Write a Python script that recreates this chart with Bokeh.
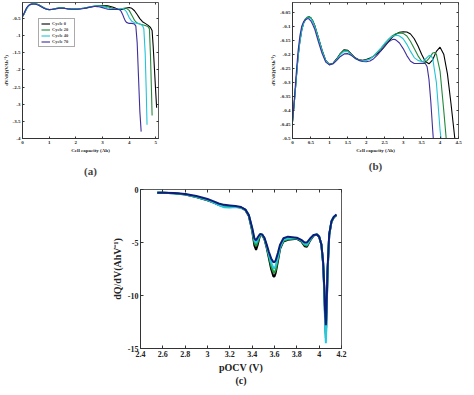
from bokeh.plotting import figure
from bokeh.layouts import column, row, Spacer
from bokeh.models import (Range1d, FixedTicker, CustomJSTickFormatter, LinearAxis, Title)
from bokeh.embed import file_html
from bokeh.resources import INLINE

# ---------------- data: panels (a) and (b)  (dV/dQ vs capacity) ----------------
cycles = ["Cycle 0", "Cycle 20", "Cycle 40", "Cycle 70"]

cap_c0 = [0, 0.05, 0.1, 0.15, 0.2, 0.25, 0.3, 0.35, 0.4, 0.45, 0.5, 0.55, 0.6, 0.7, 0.8, 0.9, 1.0,
          1.1, 1.2, 1.3, 1.4, 1.5, 1.6, 1.7, 1.8, 1.9, 2.0, 2.1, 2.2, 2.3, 2.4, 2.5, 2.6, 2.7, 2.8,
          2.9, 3.0, 3.1, 3.2, 3.3, 3.4, 3.5, 3.6, 3.7, 3.8, 3.9, 4.0, 4.1, 4.2, 4.3, 4.4, 4.5, 4.6,
          4.7, 4.8, 4.86, 4.9, 4.95, 5.0, 5.03]
dvdq_c0 = [-0.44, -0.37, -0.29, -0.21, -0.155, -0.115, -0.09, -0.077, -0.07, -0.068, -0.071, -0.082,
           -0.097, -0.14, -0.185, -0.222, -0.236, -0.232, -0.216, -0.197, -0.184, -0.186, -0.2, -0.213,
           -0.22, -0.222, -0.219, -0.214, -0.207, -0.198, -0.187, -0.172, -0.155, -0.14, -0.129, -0.122,
           -0.12, -0.121, -0.128, -0.145, -0.17, -0.2, -0.226, -0.234, -0.22, -0.19, -0.175, -0.2, -0.27,
           -0.38, -0.5, -0.59, -0.64, -0.69, -0.76, -0.85, -1.3, -2.0, -2.7, -3.1]

cap_c20 = [0, 0.05, 0.1, 0.15, 0.2, 0.25, 0.3, 0.35, 0.4, 0.45, 0.5, 0.55, 0.6, 0.7, 0.8, 0.9, 1.0,
           1.1, 1.2, 1.3, 1.4, 1.5, 1.6, 1.7, 1.8, 1.9, 2.0, 2.1, 2.2, 2.3, 2.4, 2.5, 2.6, 2.7, 2.8,
           2.9, 3.0, 3.1, 3.2, 3.3, 3.4, 3.5, 3.6, 3.7, 3.8, 3.85, 3.9, 4.0, 4.1, 4.2, 4.3, 4.4, 4.5,
           4.6, 4.7, 4.76, 4.8, 4.84, 4.86]
dvdq_c20 = [-0.44, -0.37, -0.29, -0.21, -0.152, -0.112, -0.088, -0.074, -0.068, -0.066, -0.07, -0.081,
            -0.097, -0.14, -0.186, -0.223, -0.237, -0.233, -0.217, -0.198, -0.186, -0.188, -0.202, -0.214,
            -0.221, -0.223, -0.221, -0.216, -0.206, -0.193, -0.18, -0.164, -0.148, -0.135, -0.127, -0.124,
            -0.126, -0.135, -0.155, -0.18, -0.205, -0.225, -0.23, -0.215, -0.196, -0.194, -0.2, -0.26,
            -0.4, -0.55, -0.63, -0.66, -0.68, -0.7, -0.73, -0.8, -1.6, -2.7, -3.33]

cap_c40 = [0, 0.05, 0.1, 0.15, 0.2, 0.25, 0.3, 0.35, 0.4, 0.45, 0.5, 0.55, 0.6, 0.7, 0.8, 0.9, 1.0,
           1.1, 1.2, 1.3, 1.4, 1.5, 1.6, 1.7, 1.8, 1.9, 2.0, 2.1, 2.2, 2.3, 2.4, 2.5, 2.6, 2.7, 2.8,
           2.85, 2.9, 3.0, 3.1, 3.2, 3.3, 3.4, 3.5, 3.55, 3.6, 3.7, 3.75, 3.8, 3.9, 4.0, 4.1, 4.2, 4.3,
           4.4, 4.5, 4.55, 4.6, 4.64, 4.67]
dvdq_c40 = [-0.44, -0.37, -0.29, -0.21, -0.155, -0.115, -0.09, -0.077, -0.071, -0.07, -0.074, -0.085,
            -0.1, -0.143, -0.188, -0.224, -0.237, -0.234, -0.219, -0.201, -0.19, -0.191, -0.203, -0.215,
            -0.222, -0.224, -0.222, -0.217, -0.206, -0.192, -0.177, -0.161, -0.147, -0.137, -0.133,
            -0.133, -0.135, -0.145, -0.165, -0.19, -0.212, -0.222, -0.226, -0.225, -0.218, -0.205,
            -0.205, -0.215, -0.3, -0.47, -0.58, -0.62, -0.64, -0.66, -0.7, -0.8, -1.5, -2.6, -3.6]

cap_c70 = [0, 0.05, 0.1, 0.15, 0.2, 0.25, 0.3, 0.35, 0.4, 0.43, 0.45, 0.5, 0.55, 0.6, 0.7, 0.8, 0.9,
           1.0, 1.1, 1.2, 1.3, 1.4, 1.5, 1.6, 1.7, 1.8, 1.9, 2.0, 2.1, 2.2, 2.3, 2.4, 2.5, 2.6, 2.7,
           2.75, 2.8, 2.9, 3.0, 3.1, 3.2, 3.3, 3.4, 3.5, 3.6, 3.65, 3.7, 3.75, 3.8, 3.85, 3.9, 4.0,
           4.1, 4.2, 4.25, 4.3, 4.35, 4.4, 4.45]
dvdq_c70 = [-0.44, -0.36, -0.27, -0.19, -0.135, -0.1, -0.084, -0.077, -0.074, -0.074, -0.075, -0.082,
            -0.095, -0.11, -0.155, -0.197, -0.228, -0.238, -0.234, -0.222, -0.208, -0.199, -0.198,
            -0.205, -0.215, -0.222, -0.226, -0.227, -0.224, -0.216, -0.203, -0.187, -0.17, -0.157,
            -0.148, -0.147, -0.149, -0.16, -0.18, -0.205, -0.225, -0.233, -0.233, -0.232, -0.233,
            -0.245, -0.29, -0.37, -0.47, -0.56, -0.61, -0.64, -0.64, -0.66, -0.72, -1.2, -2.2, -3.2, -3.8]

a_xticks = [0, 1, 2, 3, 4, 5]
a_yticks = [-4, -3.5, -3, -2.5, -2, -1.5, -1, -0.5]
b_xticks = [0, 0.5, 1, 1.5, 2, 2.5, 3, 3.5, 4, 4.5]
b_yticks = [-0.5, -0.45, -0.4, -0.35, -0.3, -0.25, -0.2, -0.15, -0.1, -0.05]

# ---------------- data: panel (c)  (dQ/dV vs pOCV) ----------------
pocv = [2.55, 2.6, 2.7, 2.8, 2.9, 3.0, 3.05, 3.1, 3.15, 3.2, 3.25, 3.3, 3.34, 3.37, 3.40, 3.42,
        3.435, 3.45, 3.47, 3.49, 3.51, 3.53, 3.55, 3.57, 3.59, 3.6, 3.61, 3.63, 3.65, 3.68, 3.72,
        3.76, 3.8, 3.84, 3.87, 3.89, 3.92, 3.95, 3.98, 4.0, 4.02, 4.035, 4.045, 4.055, 4.06, 4.065,
        4.075, 4.09, 4.11, 4.13, 4.155]
dqdv_c0 = [-0.30, -0.31, -0.36, -0.47, -0.72, -1.02, -1.22, -1.45, -1.6, -1.62, -1.62, -1.7, -1.95,
           -2.5, -3.9, -5.3, -5.7, -5.2, -4.35, -4.3, -4.7, -5.5, -6.5, -7.5, -8.2, -8.2, -7.9, -6.8,
           -5.6, -4.9, -4.75, -4.7, -4.65, -4.9, -5.35, -5.4, -4.8, -4.35, -4.25, -4.45, -5.2, -6.9,
           -9.2, -12.5, -13.6, -12.0, -7.8, -4.3, -3.05, -2.65, -2.4]
dqdv_c20 = [-0.30, -0.31, -0.35, -0.46, -0.7, -1.0, -1.2, -1.45, -1.62, -1.65, -1.63, -1.7, -1.93,
            -2.45, -3.8, -5.0, -5.35, -4.95, -4.3, -4.28, -4.65, -5.4, -6.3, -7.2, -7.8, -7.85, -7.6,
            -6.6, -5.5, -4.85, -4.7, -4.65, -4.6, -4.85, -5.25, -5.3, -4.75, -4.33, -4.25, -4.45, -5.2,
            -6.9, -9.3, -12.8, -14.0, -12.3, -7.8, -4.3, -3.05, -2.65, -2.4]
dqdv_c40 = [-0.30, -0.31, -0.35, -0.45, -0.68, -0.98, -1.2, -1.48, -1.68, -1.7, -1.66, -1.7, -1.92,
            -2.4, -3.7, -4.8, -5.05, -4.7, -4.25, -4.26, -4.6, -5.3, -6.1, -6.9, -7.4, -7.45, -7.2,
            -6.4, -5.4, -4.75, -4.6, -4.6, -4.6, -4.8, -5.15, -5.2, -4.7, -4.3, -4.25, -4.45, -5.2,
            -7.0, -9.5, -13.3, -14.5, -12.6, -7.8, -4.25, -3.0, -2.6, -2.38]
dqdv_c70 = [-0.30, -0.30, -0.33, -0.42, -0.62, -0.9, -1.1, -1.32, -1.45, -1.5, -1.55, -1.65, -1.9,
            -2.4, -3.6, -4.6, -4.8, -4.5, -4.2, -4.25, -4.55, -5.2, -5.9, -6.5, -6.85, -6.85, -6.7,
            -6.0, -5.2, -4.6, -4.45, -4.5, -4.55, -4.75, -5.0, -5.0, -4.6, -4.3, -4.25, -4.45, -5.2,
            -6.8, -9.0, -12.0, -12.8, -11.5, -7.5, -4.2, -3.0, -2.6, -2.35]
c_xticks = [2.4, 2.6, 2.8, 3.0, 3.2, 3.4, 3.6, 3.8, 4.0, 4.2]
c_yticks = [-15, -10, -5, 0]

SERIF = "Liberation Serif"
COL_AB = ["#000000", "#22883a", "#22c4d8", "#3d2f9c"]
COL_C = ["#000000", "#1f9a3c", "#25c8e0", "#0d1d78"]


def fmt():
    return CustomJSTickFormatter(code="return String(Math.round(tick*100)/100);")


def style(p, xt, yt, fs, lab_fs, tick_len, xlabel, ylabel, lab_standoff):
    p.xgrid.visible = False
    p.ygrid.visible = False
    p.outline_line_color = "#333333"
    p.outline_line_width = 0.8
    xa = p.below[0]
    ya = p.left[0]
    xa.axis_label = xlabel
    ya.axis_label = ylabel
    for ax, t in ((xa, xt), (ya, yt)):
        ax.ticker = FixedTicker(ticks=t)
        ax.formatter = fmt()
        ax.major_tick_in = tick_len
        ax.major_tick_out = 0
        ax.minor_tick_line_color = None
        ax.axis_line_color = "#333333"
        ax.major_tick_line_color = "#333333"
        ax.major_label_text_font = SERIF
        ax.major_label_text_font_style = "bold"
        ax.major_label_text_font_size = fs
        ax.major_label_text_color = "#222222"
        ax.major_label_standoff = 2
        ax.axis_label_standoff = lab_standoff
        ax.axis_label_text_font = SERIF
        ax.axis_label_text_font_style = "bold"
        ax.axis_label_text_font_size = lab_fs
        ax.axis_label_text_color = "#222222"
    # mirrored ticks on top / right (MATLAB box style), no labels
    for loc, t in (("above", xt), ("right", yt)):
        ax = LinearAxis(ticker=FixedTicker(ticks=t), major_tick_in=tick_len, major_tick_out=0,
                        minor_tick_line_color=None, major_label_text_color=None,
                        major_label_standoff=0, axis_line_color=None,
                        major_tick_line_color="#333333")
        p.add_layout(ax, loc)


# ---------------- panel (a) ----------------
pa = figure(width=246, height=183, output_backend="svg", toolbar_location=None,
            x_range=Range1d(0, 5.1), y_range=Range1d(-4, -0.03),
            min_border_left=20, min_border_right=88, min_border_top=2, min_border_bottom=44)
style(pa, a_xticks, a_yticks, "5px", "5px", 2, "Cell capacity (Ah)", "dV/dQ(VAh\u207b\u00b9)", 1)
for xs, ys, c, lab in zip([cap_c0, cap_c20, cap_c40, cap_c70],
                          [dvdq_c0, dvdq_c20, dvdq_c40, dvdq_c70], COL_AB, cycles):
    pa.line(xs, ys, line_color=c, line_width=1.1, legend_label=lab)
lg = pa.legend[0]
lg.location = "top_left"
lg.margin = 16
lg.label_text_font = SERIF
lg.label_text_font_style = "bold"
lg.label_text_font_size = "4.5px"
lg.label_height = 5
lg.glyph_height = 5
lg.glyph_width = 9
lg.spacing = 1
lg.padding = 2
lg.label_standoff = 2
lg.border_line_color = "#555555"
lg.border_line_width = 0.6
pa.add_layout(Title(text="(a)", align="center", text_font=SERIF, text_font_size="11px",
                    text_font_style="bold", standoff=14), "below")

# ---------------- panel (b) ----------------
pb = figure(width=228, height=183, output_backend="svg", toolbar_location=None,
            x_range=Range1d(0, 4.5), y_range=Range1d(-0.5, -0.016),
            min_border_left=46, min_border_right=16, min_border_top=0, min_border_bottom=41)
style(pb, b_xticks, b_yticks, "5px", "5px", 2, "Cell capacity (Ah)", "dV/dQ(VAh\u207b\u00b9)", 1)
for xs, ys, c in zip([cap_c0, cap_c20, cap_c40, cap_c70],
                     [dvdq_c0, dvdq_c20, dvdq_c40, dvdq_c70], COL_AB):
    pb.line(xs, ys, line_color=c, line_width=1.1)
pb.add_layout(Title(text="(b)", align="center", text_font=SERIF, text_font_size="11px",
                    text_font_style="bold", standoff=5), "below")

# ---------------- panel (c) ----------------
pc = figure(width=260, height=212, output_backend="svg", toolbar_location=None,
            x_range=Range1d(2.4, 4.2), y_range=Range1d(-15, 0),
            min_border_left=40, min_border_right=19, min_border_top=6, min_border_bottom=47)
style(pc, c_xticks, c_yticks, "8px", "10px", 3, "pOCV (V)\n(c)", "dQ/dV(AhV\u207b\u00b9)", 2)
for ys, c in zip([dqdv_c0, dqdv_c20, dqdv_c40, dqdv_c70], COL_C):
    pc.line(pocv, ys, line_color=c, line_width=2)

layout = column(row(pa, pb, spacing=0),
                row(Spacer(width=100, height=212), pc, Spacer(width=114, height=212), spacing=0),
                spacing=0)

open("out.html", "w").write(file_html(layout, INLINE))
